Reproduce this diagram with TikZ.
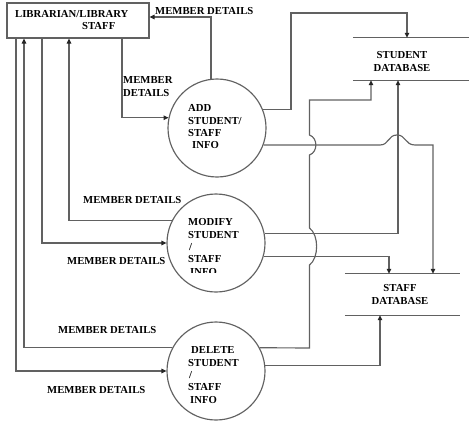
\documentclass[tikz,border=0pt]{standalone}
\usepackage{fontspec}
\setmainfont{Liberation Serif}
\usetikzlibrary{arrows.meta}
\begin{document}
\begin{tikzpicture}[x=1pt,y=-1pt,
  line/.style={draw=black!62,line width=1.15pt},
  arr/.style={line,-{Triangle[length=5pt,width=4.5pt,color=black!85]}},
  proc/.style={circle,line,minimum size=98pt,inner sep=0pt},
  store/.style={inner sep=0pt},
  lbl/.style={font=\bfseries\fontsize{10.7}{12.4}\selectfont,inner sep=0pt,text=black}]
\useasboundingbox (0,0) rectangle (474,431);
% entity
\node[line,minimum width=142pt,minimum height=35pt,inner sep=0pt] (lib) at (78,20.5) {};
\node[lbl,anchor=west] (libt1) at (15,14) {LIBRARIAN/LIBRARY};
\node[lbl,anchor=west] (libt2) at (82,26) {STAFF};
% processes
\node[proc] (add) at (217,128) {};
\node[proc] (modify) at (216,243) {};
\node[proc] (delete) at (216,371) {};
\node[lbl,align=left,anchor=north west] (addt) at (188,104.5) {ADD\\STUDENT/\\STAFF\\\hspace{4pt}INFO};
\begin{scope}
\clip (170,200) rectangle (266,272);
\node[lbl,align=left,anchor=north west] (modt) at (188,218.5) {MODIFY\\STUDENT\\\hspace{1pt}/\\STAFF\\\hspace{2pt}INFO};
\end{scope}
\node[lbl,align=left,anchor=north west] (delt) at (188,346.5) {\hspace{3pt}DELETE\\STUDENT\\\hspace{1pt}/\\STAFF\\\hspace{2pt}INFO};
% data stores
\node[store,minimum width=116pt,minimum height=42pt] (sdb) at (411,59) {};
\draw[line] (sdb.north west) -- (sdb.north east);
\draw[line] (sdb.south west) -- (sdb.south east);
\node[lbl,align=center] (sdbt) at (402,61.5) {STUDENT\\DATABASE};
\node[store,minimum width=115pt,minimum height=41pt] (fdb) at (402.5,294.5) {};
\draw[line] (fdb.north west) -- (fdb.north east);
\draw[line] (fdb.south west) -- (fdb.south east);
\node[lbl,align=center] (fdbt) at (400,294.5) {STAFF\\DATABASE};
% flows between entity and processes
\draw[arr] ([xshift=44pt]lib.south) |- (add.168);
\draw[arr] (add.97) |- ([yshift=3.5pt]lib.east);
\draw[arr] (modify.153) -| ([xshift=-9pt]lib.south);
\draw[arr] ([xshift=-36pt]lib.south) |- (modify.west);
\draw[arr] (delete.152) -| ([xshift=-54pt]lib.south);
\draw[arr] ([xshift=-62pt]lib.south) |- (delete.west);
% labels
\node[lbl,anchor=west] (m1) at (155,11) {MEMBER DETAILS};
\node[lbl,align=left,anchor=north west] (m2) at (123,76.5) {MEMBER\\DETAILS};
\node[lbl,anchor=west] (m3) at (83,200) {MEMBER DETAILS};
\node[lbl,anchor=west] (m4) at (67,261) {MEMBER DETAILS};
\node[lbl,anchor=west] (m5) at (58,330) {MEMBER DETAILS};
\node[lbl,anchor=west] (m6) at (47,390) {MEMBER DETAILS};
% flows to data stores
\draw[arr] (add.22) -| (291,13) -| ([xshift=-4pt]sdb.north);
\draw[arr] (add.-20) -- (380,145) .. controls (389,145) and (388,135) .. (397,135) .. controls (406,135) and (405,145) .. (415,145) -| ([xshift=30.5pt]fdb.north);
\draw[arr] (modify.11) -| ([xshift=-13pt]sdb.south);
\draw[arr] (modify.-16) -| ([xshift=-13.5pt]fdb.north);
\draw[arr] (delete.28) -- (309.5,348) -- (309.5,265) .. controls (319,258) and (319,235) .. (309.5,228) -- (309.5,155) .. controls (318,152) and (318,138) .. (309.5,135) -- (309.5,100) -| ([xshift=-40pt]sdb.south);
\draw[arr] (delete.6) -| ([xshift=-22.5pt]fdb.south);
\end{tikzpicture}
\end{document}
